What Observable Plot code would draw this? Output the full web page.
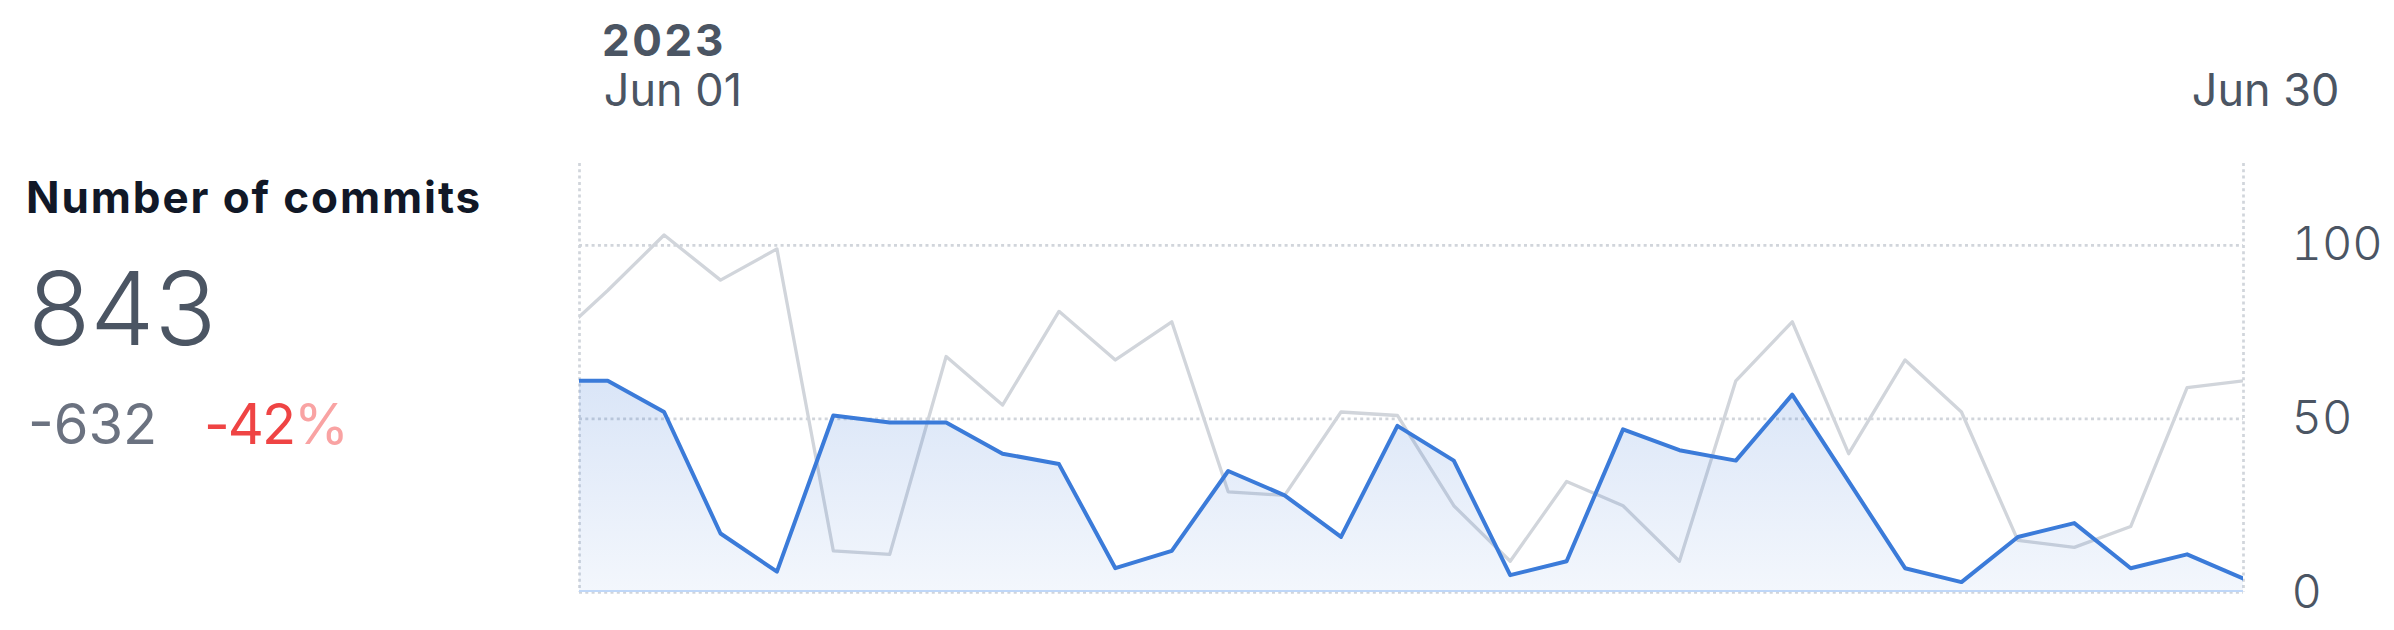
<!DOCTYPE html>
<html><head><meta charset="utf-8">
<script src="https://cdn.jsdelivr.net/npm/d3@7"></script>
<script src="https://cdn.jsdelivr.net/npm/@observablehq/plot@0.6"></script>
<style>
body{margin:0;background:#fff;font-family:Inter, "Noto Sans", sans-serif;}
#wrap{position:relative;width:2394px;height:630px;overflow:hidden;}
#side{position:absolute;left:0;top:0;width:540px;height:630px;}
.t{position:absolute;white-space:nowrap;line-height:1;}
#title{left:26px;top:175px;font-size:44px;font-weight:700;letter-spacing:1.9px;color:#111827;}
#total{left:28px;top:257px;font-size:102px;font-weight:300;color:#4b5563;}
#delta{left:28px;top:396px;font-size:56px;font-weight:400;color:#6b7280;}
#pct{left:204px;top:396px;font-size:56px;font-weight:400;letter-spacing:-2px;color:#ef4444;}
#pct .unit{color:#f9a3a3;}
#year{left:602px;top:20.9px;font-size:44px;line-height:0.9;font-weight:700;letter-spacing:2.6px;color:#4b5563;}
#chart{position:absolute;left:540px;top:0;}
</style></head><body>
<div id="wrap">
  <div id="side">
    <div class="t" id="title">Number of commits</div>
    <div class="t" id="total"></div>
    <div class="t" id="delta"></div>
    <div class="t" id="pct"></div>
  </div>
  <div id="chart"></div>
  <div class="t" id="year"></div>
</div>
<script>
// First entry is May 31 (lead-in, clipped at the left edge); then Jun 01 .. Jun 30
const startDay = "2023-05-31";
const currentCommits  = [61, 61, 52, 17, 6, 51, 49, 49, 40, 37, 7, 12, 35, 28, 16, 48, 38, 5, 9, 47, 41, 38, 57, 32, 7, 3, 16, 20, 7, 11, 4];
const previousCommits = [72, 87, 103, 90, 99, 12, 11, 68, 54, 81, 67, 78, 29, 28, 52, 51, 25, 9, 32, 25, 9, 61, 78, 40, 67, 52, 15, 13, 19, 59, 61];
const yTicks = [0, 50, 100];
const firstLabel = {date: "2023-06-01", year: "2023", label: "Jun 01"};
const lastLabel = {date: "2023-06-30", label: "Jun 30"};

const dates = currentCommits.map((_, i) => d3.utcDay.offset(new Date(startDay + "T00:00Z"), i));
const rows = dates.map((date, i) => ({date, current: currentCommits[i], previous: previousCommits[i]}));
const june = rows.slice(1);

const total = d3.sum(june, d => d.current);
const prevTotal = d3.sum(june, d => d.previous);
const delta = total - prevTotal;
const pct = Math.trunc(delta / prevTotal * 100);
document.getElementById("total").textContent = total;
document.getElementById("delta").textContent = (delta < 0 ? "-" : "+") + Math.abs(delta);
document.getElementById("pct").innerHTML = (pct < 0 ? "-" : "+") + Math.abs(pct) + '<span class="unit">%</span>';
document.getElementById("year").textContent = firstLabel.year;

const xDomain = [d3.utcHour.offset(dates[0], 12), dates[dates.length - 1]];
const dotted = {stroke: "#d1d5db", strokeWidth: 2.7, strokeDasharray: "3,3.3"};

const plot = Plot.plot({
  width: 1854, height: 630,
  marginLeft: 39, marginRight: 151, marginTop: 163, marginBottom: 38,
  style: {fontFamily: "Inter, sans-serif", fontSize: "45px", color: "#4b5563", background: "transparent", overflow: "visible"},
  x: {type: "utc", domain: xDomain, axis: null},
  y: {domain: [0, d3.max(june, d => d.previous) * 1.2], axis: null},
  marks: [
    Plot.ruleY(yTicks, dotted),
    Plot.ruleX(xDomain, dotted),
    Plot.lineY(rows, {x: "date", y: "previous", stroke: "#d1d5db", strokeWidth: 3.3, clip: true}),
    Plot.areaY(rows, {x: "date", y: "current", fill: "url(#areaGrad)", clip: true}),
    Plot.ruleY([0], {stroke: "#bfd7f8", strokeWidth: 2, dy: -1.5}),
    Plot.lineY(rows, {x: "date", y: "current", stroke: "#3b7bd9", strokeWidth: 4, clip: true}),
    Plot.axisY(yTicks, {anchor: "right", tickSize: 0, tickPadding: 48, textAnchor: "start", fontSize: 47, fontWeight: 300, fill: "#4b5563", label: null}),
    Plot.text([firstLabel], {x: d => new Date(d.date + "T00:00Z"), text: "label", frameAnchor: "top", lineAnchor: "middle", textAnchor: "start", dx: -4, dy: -72, fontSize: 45, fill: "#4b5563"}),
    Plot.text([lastLabel], {x: d => new Date(d.date + "T00:00Z"), text: "label", frameAnchor: "top", lineAnchor: "middle", textAnchor: "end", dx: 96, dy: -72, fontSize: 45, fill: "#4b5563"})
  ]
});

// gradient for the area fill
const NS = "http://www.w3.org/2000/svg";
const defs = document.createElementNS(NS, "defs");
const grad = document.createElementNS(NS, "linearGradient");
grad.setAttribute("id", "areaGrad");
grad.setAttribute("x1", "0"); grad.setAttribute("y1", "0");
grad.setAttribute("x2", "0"); grad.setAttribute("y2", "1");
[[0, 0.19], [1, 0.06]].forEach(([o, a]) => {
  const s = document.createElementNS(NS, "stop");
  s.setAttribute("offset", o);
  s.setAttribute("stop-color", "#3b77d6");
  s.setAttribute("stop-opacity", a);
  grad.appendChild(s);
});
defs.appendChild(grad);
plot.insertBefore(defs, plot.firstChild);
document.getElementById("chart").appendChild(plot);
</script>
</body></html>
